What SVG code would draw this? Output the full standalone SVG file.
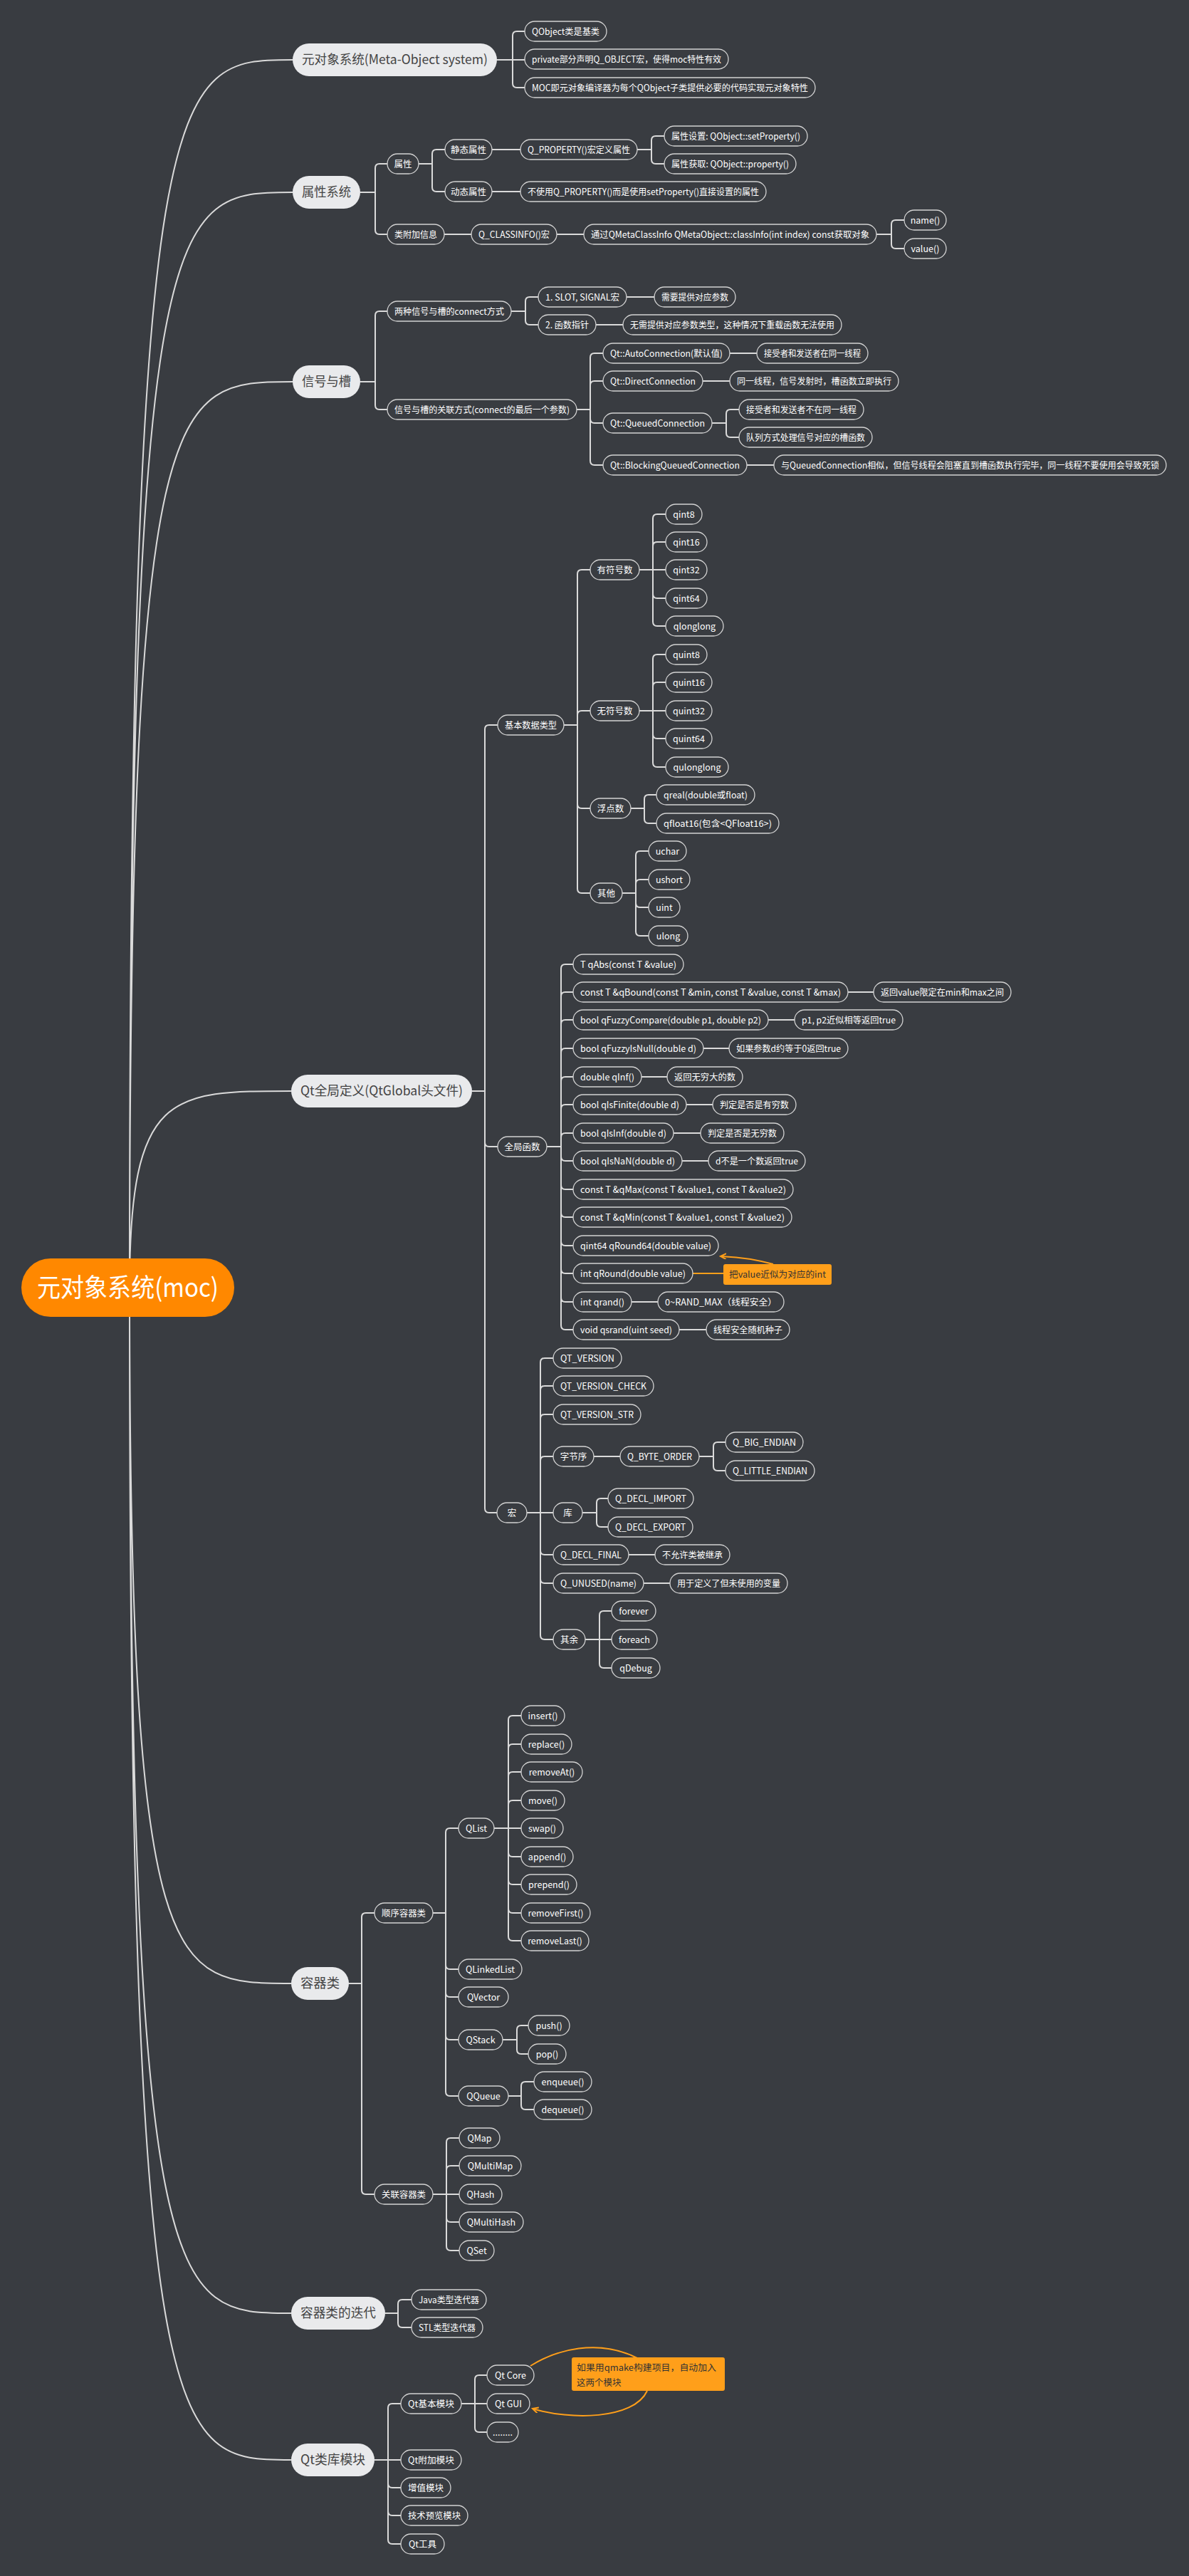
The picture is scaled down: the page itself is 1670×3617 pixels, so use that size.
<svg xmlns="http://www.w3.org/2000/svg" width="1670" height="3617" viewBox="0 0 1670 3617">
<style>
.n rect{fill:#393c41;stroke:#d2d2d2;stroke-width:1.3}
.n text{fill:#ffffff;font-family:"Noto Sans CJK SC","Noto Sans",sans-serif;font-size:12.5px;text-anchor:middle}
.l1 rect{fill:#e9eaec;stroke:none}
.l1 text{fill:#444;font-family:"Noto Sans CJK SC","Noto Sans",sans-serif;font-size:18px;text-anchor:middle}
.c path{fill:none;stroke:#dadada;stroke-width:2}
.co rect{fill:#ff9f1a}
.co text{fill:#333;font-family:"Noto Sans CJK SC","Noto Sans",sans-serif;font-size:12.5px}
.ol{fill:none;stroke:#ff9f1a;stroke-width:2}
</style>
<defs>
<marker id="ah" markerWidth="10" markerHeight="10" refX="8" refY="4" orient="auto" markerUnits="userSpaceOnUse">
<path d="M0,0L8,4L0,8" fill="none" stroke="#ff9f1a" stroke-width="2"/>
</marker>
</defs>
<rect width="1670" height="3617" fill="#393c41"/>
<g id="connectors" class="c">
<path d="M182,1808C182,84 240,84 411,84M182,1808C182,270 240,270 411,270M182,1808C182,536 240,536 411,536M182,1808C182,1532 240,1532 409,1532M182,1808C182,2785 240,2785 409,2785M182,1808C182,3248 240,3248 409,3248M182,1808C182,3454 240,3454 409,3454"/>
<path d="M698,84H720V50Q720,44 726,44H737M698,84H737M698,84H720V117Q720,123 726,123H737"/>
<path d="M506,270H527V236Q527,230 533,230H544M506,270H527V323Q527,329 533,329H544M588,230H607V216Q607,210 613,210H625M588,230H607V263Q607,269 613,269H625M691,210H731M895,210H915V197Q915,191 921,191H933M895,210H915V224Q915,230 921,230H933M691,269H731M624,329H662M782,329H820M1231,329H1252V315Q1252,309 1258,309H1270M1231,329H1252V343Q1252,349 1258,349H1270"/>
<path d="M506,536H527V443Q527,437 533,437H544M506,536H527V569Q527,575 533,575H544M718,437H738V423Q738,417 744,417H756M718,437H738V450Q738,456 744,456H756M880,417H919M837,456H875M810,575H829V502Q829,496 835,496H847M810,575H829V541Q829,535 835,535H847M810,575H829V588Q829,594 835,594H847M810,575H829V647Q829,653 835,653H847M1025,496H1063M987,535H1025M1000,594H1020V581Q1020,575 1026,575H1038M1000,594H1020V608Q1020,614 1026,614H1038M1049,653H1087"/>
<path d="M663,1532H681V1024Q681,1018 687,1018H699M663,1532H681V1604Q681,1610 687,1610H699M663,1532H681V2118Q681,2124 687,2124H698"/>
<path d="M792,1018H811V806Q811,800 817,800H829M792,1018H811V1004Q811,998 817,998H829M792,1018H811V1129Q811,1135 817,1135H829M792,1018H811V1248Q811,1254 817,1254H829"/>
<path d="M898,800H917V728Q917,722 923,722H935M898,800H917V767Q917,761 923,761H935M898,800H935M898,800H917V834Q917,840 923,840H935M898,800H917V873Q917,879 923,879H935"/>
<path d="M898,998H917V925Q917,919 923,919H935M898,998H917V964Q917,958 923,958H935M898,998H935M898,998H917V1031Q917,1037 923,1037H935M898,998H917V1071Q917,1077 923,1077H935"/>
<path d="M886,1135H905V1122Q905,1116 911,1116H922M886,1135H905V1150Q905,1156 911,1156H922M874,1254H893V1201Q893,1195 899,1195H911M874,1254H893V1241Q893,1235 899,1235H911M874,1254H893V1268Q893,1274 899,1274H911M874,1254H893V1308Q893,1314 899,1314H911"/>
<path d="M768,1610H788V1360Q788,1354 794,1354H805M768,1610H788V1399Q788,1393 794,1393H805M768,1610H788V1438Q788,1432 794,1432H805M768,1610H788V1478Q788,1472 794,1472H805M768,1610H788V1518Q788,1512 794,1512H805M768,1610H788V1557Q788,1551 794,1551H805M768,1610H788V1597Q788,1591 794,1591H805M768,1610H788V1624Q788,1630 794,1630H805M768,1610H788V1664Q788,1670 794,1670H805M768,1610H788V1703Q788,1709 794,1709H805M768,1610H788V1743Q788,1749 794,1749H805M768,1610H788V1782Q788,1788 794,1788H805M768,1610H788V1822Q788,1828 794,1828H805M768,1610H788V1861Q788,1867 794,1867H805"/>
<path d="M1191,1393H1227M1079,1432H1116M988,1472H1024M901,1512H937M964,1551H1001M946,1591H984M958,1630H995M887,1828H924M954,1867H992"/>
<path d="M740,2124H759V1913Q759,1907 765,1907H777M740,2124H759V1952Q759,1946 765,1946H777M740,2124H759V1992Q759,1986 765,1986H777M740,2124H759V2051Q759,2045 765,2045H777M740,2124H777M740,2124H759V2177Q759,2183 765,2183H777M740,2124H759V2217Q759,2223 765,2223H777M740,2124H759V2296Q759,2302 765,2302H777"/>
<path d="M834,2045H871M982,2045H1002V2031Q1002,2025 1008,2025H1019M982,2045H1002V2059Q1002,2065 1008,2065H1019M818,2124H838V2110Q838,2104 844,2104H854M818,2124H838V2138Q838,2144 844,2144H854M883,2183H920M904,2223H941M822,2302H842V2268Q842,2262 848,2262H859M822,2302H859M822,2302H842V2336Q842,2342 848,2342H859"/>
<path d="M490,2785H508V2692Q508,2686 514,2686H526M490,2785H508V3075Q508,3081 514,3081H526"/>
<path d="M608,2686H626V2573Q626,2567 632,2567H644M608,2686H626V2759Q626,2765 632,2765H644M608,2686H626V2798Q626,2804 632,2804H644M608,2686H626V2858Q626,2864 632,2864H644M608,2686H626V2937Q626,2943 632,2943H644"/>
<path d="M694,2567H714V2415Q714,2409 720,2409H732M694,2567H714V2455Q714,2449 720,2449H732M694,2567H714V2494Q714,2488 720,2488H732M694,2567H714V2534Q714,2528 720,2528H732M694,2567H732M694,2567H714V2601Q714,2607 720,2607H732M694,2567H714V2640Q714,2646 720,2646H732M694,2567H714V2680Q714,2686 720,2686H732M694,2567H714V2719Q714,2725 720,2725H732"/>
<path d="M706,2864H726V2850Q726,2844 732,2844H742M706,2864H726V2878Q726,2884 732,2884H742M714,2943H732V2929Q732,2923 738,2923H750M714,2943H732V2956Q732,2962 738,2962H750"/>
<path d="M608,3081H627V3008Q627,3002 633,3002H645M608,3081H627V3047Q627,3041 633,3041H645M608,3081H645M608,3081H627V3114Q627,3120 633,3120H645M608,3081H627V3154Q627,3160 633,3160H645"/>
<path d="M541,3248H559V3235Q559,3229 565,3229H578M541,3248H559V3262Q559,3268 565,3268H578"/>
<path d="M526,3454H545V3381Q545,3375 551,3375H563M526,3454H563M526,3454H545V3487Q545,3493 551,3493H563M526,3454H545V3526Q545,3532 551,3532H563M526,3454H545V3566Q545,3572 551,3572H563M648,3375H667V3341Q667,3335 673,3335H684M648,3375H684M648,3375H667V3409Q667,3415 673,3415H684"/>
</g>
<g id="callout-links">
<path class="ol" d="M973,1788H1016"/>
<path class="ol" d="M1086,1775Q1050,1765 1012,1764" marker-end="url(#ah)"/>
<path class="ol" d="M745,3322C780,3300 840,3282 897,3312"/>
<path class="ol" d="M909,3357C890,3398 800,3398 748,3382" marker-end="url(#ah)"/>
</g>
<g id="root"><rect x="30" y="1767" width="299" height="82" rx="41" fill="#ff8800"/><text x="179.5" y="1821" fill="#fff" font-family="Noto Sans CJK SC,Noto Sans,sans-serif" font-size="36" text-anchor="middle" textLength="255" lengthAdjust="spacingAndGlyphs">元对象系统(moc)</text></g>
<g id="t1" class="l1"><rect x="411" y="61" width="287" height="46" rx="23"/><text x="554.5" y="90" textLength="261" lengthAdjust="spacingAndGlyphs">元对象系统(Meta-Object system)</text></g>
<g id="t2" class="l1"><rect x="411" y="247" width="95" height="46" rx="23"/><text x="458.5" y="276" textLength="69" lengthAdjust="spacingAndGlyphs">属性系统</text></g>
<g id="t3" class="l1"><rect x="411" y="513" width="95" height="46" rx="23"/><text x="458.5" y="542" textLength="69" lengthAdjust="spacingAndGlyphs">信号与槽</text></g>
<g id="t4" class="l1"><rect x="409" y="1509" width="254" height="46" rx="23"/><text x="536" y="1538" textLength="228" lengthAdjust="spacingAndGlyphs">Qt全局定义(QtGlobal头文件)</text></g>
<g id="t5" class="l1"><rect x="409" y="2762" width="81" height="46" rx="23"/><text x="449.5" y="2791" textLength="55" lengthAdjust="spacingAndGlyphs">容器类</text></g>
<g id="t6" class="l1"><rect x="409" y="3225" width="132" height="46" rx="23"/><text x="475" y="3254" textLength="106" lengthAdjust="spacingAndGlyphs">容器类的迭代</text></g>
<g id="t7" class="l1"><rect x="409" y="3431" width="117" height="46" rx="23"/><text x="467.5" y="3460" textLength="91" lengthAdjust="spacingAndGlyphs">Qt类库模块</text></g>

<g id="a1" class="n"><rect x="737" y="30" width="115" height="28" rx="14"/><text x="794.5" y="48.5" textLength="95" lengthAdjust="spacingAndGlyphs">QObject类是基类</text></g>
<g id="a2" class="n"><rect x="737" y="69" width="286" height="28" rx="14"/><text x="880" y="87.5" textLength="266" lengthAdjust="spacingAndGlyphs">private部分声明Q_OBJECT宏，使得moc特性有效</text></g>
<g id="a3" class="n"><rect x="737" y="109" width="408" height="28" rx="14"/><text x="941" y="127.5" textLength="388" lengthAdjust="spacingAndGlyphs">MOC即元对象编译器为每个QObject子类提供必要的代码实现元对象特性</text></g>
<g id="b1" class="n"><rect x="544" y="216" width="44" height="28" rx="14"/><text x="566" y="234.5">属性</text></g>
<g id="b2" class="n"><rect x="625" y="196" width="66" height="28" rx="14"/><text x="658" y="214.5">静态属性</text></g>
<g id="b3" class="n"><rect x="731" y="196" width="164" height="28" rx="14"/><text x="813" y="214.5" textLength="144" lengthAdjust="spacingAndGlyphs">Q_PROPERTY()宏定义属性</text></g>
<g id="b4" class="n"><rect x="933" y="177" width="201" height="28" rx="14"/><text x="1033.5" y="195.5" textLength="181" lengthAdjust="spacingAndGlyphs">属性设置: QObject::setProperty()</text></g>
<g id="b5" class="n"><rect x="933" y="216" width="185" height="28" rx="14"/><text x="1025.5" y="234.5" textLength="165" lengthAdjust="spacingAndGlyphs">属性获取: QObject::property()</text></g>
<g id="b6" class="n"><rect x="625" y="255" width="66" height="28" rx="14"/><text x="658" y="273.5">动态属性</text></g>
<g id="b7" class="n"><rect x="731" y="255" width="345" height="28" rx="14"/><text x="903.5" y="273.5" textLength="325" lengthAdjust="spacingAndGlyphs">不使用Q_PROPERTY()而是使用setProperty()直接设置的属性</text></g>
<g id="b8" class="n"><rect x="544" y="315" width="80" height="28" rx="14"/><text x="584" y="333.5" textLength="60" lengthAdjust="spacingAndGlyphs">类附加信息</text></g>
<g id="b9" class="n"><rect x="662" y="315" width="120" height="28" rx="14"/><text x="722" y="333.5" textLength="100" lengthAdjust="spacingAndGlyphs">Q_CLASSINFO()宏</text></g>
<g id="b10" class="n"><rect x="820" y="315" width="411" height="28" rx="14"/><text x="1025.5" y="333.5" textLength="391" lengthAdjust="spacingAndGlyphs">通过QMetaClassInfo QMetaObject::classInfo(int index) const获取对象</text></g>
<g id="b11" class="n"><rect x="1270" y="295" width="59" height="28" rx="14"/><text x="1299.5" y="313.5">name()</text></g>
<g id="b12" class="n"><rect x="1270" y="335" width="59" height="28" rx="14"/><text x="1299.5" y="353.5">value()</text></g>

<g id="s1" class="n"><rect x="544" y="423" width="174" height="28" rx="14"/><text x="631" y="441.5" textLength="154" lengthAdjust="spacingAndGlyphs">两种信号与槽的connect方式</text></g>
<g id="s2" class="n"><rect x="756" y="403" width="124" height="28" rx="14"/><text x="818" y="421.5" textLength="104" lengthAdjust="spacingAndGlyphs">1. SLOT, SIGNAL宏</text></g>
<g id="s3" class="n"><rect x="919" y="403" width="114" height="28" rx="14"/><text x="976" y="421.5" textLength="94" lengthAdjust="spacingAndGlyphs">需要提供对应参数</text></g>
<g id="s4" class="n"><rect x="756" y="442" width="81" height="28" rx="14"/><text x="796.5" y="460.5" textLength="61" lengthAdjust="spacingAndGlyphs">2. 函数指针</text></g>
<g id="s5" class="n"><rect x="875" y="442" width="307" height="28" rx="14"/><text x="1028.5" y="460.5" textLength="287" lengthAdjust="spacingAndGlyphs">无需提供对应参数类型，这种情况下重载函数无法使用</text></g>
<g id="s6" class="n"><rect x="544" y="561" width="266" height="28" rx="14"/><text x="677" y="579.5" textLength="246" lengthAdjust="spacingAndGlyphs">信号与槽的关联方式(connect的最后一个参数)</text></g>
<g id="s7" class="n"><rect x="847" y="482" width="178" height="28" rx="14"/><text x="936" y="500.5" textLength="158" lengthAdjust="spacingAndGlyphs">Qt::AutoConnection(默认值)</text></g>
<g id="s8" class="n"><rect x="1063" y="482" width="156" height="28" rx="14"/><text x="1141" y="500.5" textLength="136" lengthAdjust="spacingAndGlyphs">接受者和发送者在同一线程</text></g>
<g id="s9" class="n"><rect x="847" y="521" width="140" height="28" rx="14"/><text x="917" y="539.5" textLength="120" lengthAdjust="spacingAndGlyphs">Qt::DirectConnection</text></g>
<g id="s10" class="n"><rect x="1025" y="521" width="237" height="28" rx="14"/><text x="1143.5" y="539.5" textLength="217" lengthAdjust="spacingAndGlyphs">同一线程，信号发射时，槽函数立即执行</text></g>
<g id="s11" class="n"><rect x="847" y="580" width="153" height="28" rx="14"/><text x="923.5" y="598.5" textLength="133" lengthAdjust="spacingAndGlyphs">Qt::QueuedConnection</text></g>
<g id="s12" class="n"><rect x="1038" y="561" width="175" height="28" rx="14"/><text x="1125.5" y="579.5" textLength="155" lengthAdjust="spacingAndGlyphs">接受者和发送者不在同一线程</text></g>
<g id="s13" class="n"><rect x="1038" y="600" width="187" height="28" rx="14"/><text x="1131.5" y="618.5" textLength="167" lengthAdjust="spacingAndGlyphs">队列方式处理信号对应的槽函数</text></g>
<g id="s14" class="n"><rect x="847" y="639" width="202" height="28" rx="14"/><text x="948" y="657.5" textLength="182" lengthAdjust="spacingAndGlyphs">Qt::BlockingQueuedConnection</text></g>
<g id="s15" class="n"><rect x="1087" y="639" width="551" height="28" rx="14"/><text x="1362.5" y="657.5" textLength="531" lengthAdjust="spacingAndGlyphs">与QueuedConnection相似，但信号线程会阻塞直到槽函数执行完毕，同一线程不要使用会导致死锁</text></g>

<g id="g1" class="n"><rect x="699" y="1004" width="93" height="28" rx="14"/><text x="745.5" y="1022.5" textLength="73" lengthAdjust="spacingAndGlyphs">基本数据类型</text></g>
<g id="g2" class="n"><rect x="829" y="786" width="69" height="28" rx="14"/><text x="863.5" y="804.5">有符号数</text></g>
<g id="g3" class="n"><rect x="935" y="708" width="51" height="28" rx="14"/><text x="960.5" y="726.5">qint8</text></g>
<g id="g4" class="n"><rect x="935" y="747" width="58" height="28" rx="14"/><text x="964" y="765.5">qint16</text></g>
<g id="g5" class="n"><rect x="935" y="786" width="58" height="28" rx="14"/><text x="964" y="804.5">qint32</text></g>
<g id="g6" class="n"><rect x="935" y="826" width="58" height="28" rx="14"/><text x="964" y="844.5">qint64</text></g>
<g id="g7" class="n"><rect x="935" y="865" width="81" height="28" rx="14"/><text x="975.5" y="883.5">qlonglong</text></g>
<g id="g8" class="n"><rect x="829" y="984" width="69" height="28" rx="14"/><text x="863.5" y="1002.5">无符号数</text></g>
<g id="g9" class="n"><rect x="935" y="905" width="58" height="28" rx="14"/><text x="964" y="923.5">quint8</text></g>
<g id="g10" class="n"><rect x="935" y="944" width="65" height="28" rx="14"/><text x="967.5" y="962.5">quint16</text></g>
<g id="g11" class="n"><rect x="935" y="984" width="65" height="28" rx="14"/><text x="967.5" y="1002.5">quint32</text></g>
<g id="g12" class="n"><rect x="935" y="1023" width="65" height="28" rx="14"/><text x="967.5" y="1041.5">quint64</text></g>
<g id="g13" class="n"><rect x="935" y="1063" width="88" height="28" rx="14"/><text x="979" y="1081.5">qulonglong</text></g>
<g id="g14" class="n"><rect x="829" y="1121" width="57" height="28" rx="14"/><text x="857.5" y="1139.5">浮点数</text></g>
<g id="g15" class="n"><rect x="922" y="1102" width="138" height="28" rx="14"/><text x="991" y="1120.5" textLength="118" lengthAdjust="spacingAndGlyphs">qreal(double或float)</text></g>
<g id="g16" class="n"><rect x="922" y="1142" width="172" height="28" rx="14"/><text x="1008" y="1160.5" textLength="152" lengthAdjust="spacingAndGlyphs">qfloat16(包含&lt;QFloat16&gt;)</text></g>
<g id="g17" class="n"><rect x="829" y="1240" width="45" height="28" rx="14"/><text x="851.5" y="1258.5">其他</text></g>
<g id="g18" class="n"><rect x="911" y="1181" width="53" height="28" rx="14"/><text x="937.5" y="1199.5">uchar</text></g>
<g id="g19" class="n"><rect x="911" y="1221" width="58" height="28" rx="14"/><text x="940" y="1239.5">ushort</text></g>
<g id="g20" class="n"><rect x="911" y="1260" width="44" height="28" rx="14"/><text x="933" y="1278.5">uint</text></g>
<g id="g21" class="n"><rect x="911" y="1300" width="55" height="28" rx="14"/><text x="938.5" y="1318.5">ulong</text></g>

<g id="f0" class="n"><rect x="699" y="1596" width="69" height="28" rx="14"/><text x="733.5" y="1614.5">全局函数</text></g>
<g id="f1" class="n"><rect x="805" y="1340" width="155" height="28" rx="14"/><text x="882.5" y="1358.5" textLength="135" lengthAdjust="spacingAndGlyphs">T qAbs(const T &amp;value)</text></g>
<g id="f2" class="n"><rect x="805" y="1379" width="386" height="28" rx="14"/><text x="998" y="1397.5" textLength="366" lengthAdjust="spacingAndGlyphs">const T &amp;qBound(const T &amp;min, const T &amp;value, const T &amp;max)</text></g>
<g id="f2a" class="n"><rect x="1227" y="1379" width="193" height="28" rx="14"/><text x="1323.5" y="1397.5" textLength="173" lengthAdjust="spacingAndGlyphs">返回value限定在min和max之间</text></g>
<g id="f3" class="n"><rect x="805" y="1418" width="274" height="28" rx="14"/><text x="942" y="1436.5" textLength="254" lengthAdjust="spacingAndGlyphs">bool qFuzzyCompare(double p1, double p2)</text></g>
<g id="f3a" class="n"><rect x="1116" y="1418" width="152" height="28" rx="14"/><text x="1192" y="1436.5" textLength="132" lengthAdjust="spacingAndGlyphs">p1, p2近似相等返回true</text></g>
<g id="f4" class="n"><rect x="805" y="1458" width="183" height="28" rx="14"/><text x="896.5" y="1476.5" textLength="163" lengthAdjust="spacingAndGlyphs">bool qFuzzyIsNull(double d)</text></g>
<g id="f4a" class="n"><rect x="1024" y="1458" width="167" height="28" rx="14"/><text x="1107.5" y="1476.5" textLength="147" lengthAdjust="spacingAndGlyphs">如果参数d约等于0返回true</text></g>
<g id="f5" class="n"><rect x="805" y="1498" width="96" height="28" rx="14"/><text x="853" y="1516.5" textLength="76" lengthAdjust="spacingAndGlyphs">double qInf()</text></g>
<g id="f5a" class="n"><rect x="937" y="1498" width="106" height="28" rx="14"/><text x="990" y="1516.5" textLength="86" lengthAdjust="spacingAndGlyphs">返回无穷大的数</text></g>
<g id="f6" class="n"><rect x="805" y="1537" width="159" height="28" rx="14"/><text x="884.5" y="1555.5" textLength="139" lengthAdjust="spacingAndGlyphs">bool qIsFinite(double d)</text></g>
<g id="f6a" class="n"><rect x="1001" y="1537" width="117" height="28" rx="14"/><text x="1059.5" y="1555.5" textLength="97" lengthAdjust="spacingAndGlyphs">判定是否是有穷数</text></g>
<g id="f7" class="n"><rect x="805" y="1577" width="141" height="28" rx="14"/><text x="875.5" y="1595.5" textLength="121" lengthAdjust="spacingAndGlyphs">bool qIsInf(double d)</text></g>
<g id="f7a" class="n"><rect x="984" y="1577" width="117" height="28" rx="14"/><text x="1042.5" y="1595.5" textLength="97" lengthAdjust="spacingAndGlyphs">判定是否是无穷数</text></g>
<g id="f8" class="n"><rect x="805" y="1616" width="153" height="28" rx="14"/><text x="881.5" y="1634.5" textLength="133" lengthAdjust="spacingAndGlyphs">bool qIsNaN(double d)</text></g>
<g id="f8a" class="n"><rect x="995" y="1616" width="136" height="28" rx="14"/><text x="1063" y="1634.5" textLength="116" lengthAdjust="spacingAndGlyphs">d不是一个数返回true</text></g>
<g id="f9" class="n"><rect x="805" y="1656" width="309" height="28" rx="14"/><text x="959.5" y="1674.5" textLength="289" lengthAdjust="spacingAndGlyphs">const T &amp;qMax(const T &amp;value1, const T &amp;value2)</text></g>
<g id="f10" class="n"><rect x="805" y="1695" width="307" height="28" rx="14"/><text x="958.5" y="1713.5" textLength="287" lengthAdjust="spacingAndGlyphs">const T &amp;qMin(const T &amp;value1, const T &amp;value2)</text></g>
<g id="f11" class="n"><rect x="805" y="1735" width="204" height="28" rx="14"/><text x="907" y="1753.5" textLength="184" lengthAdjust="spacingAndGlyphs">qint64 qRound64(double value)</text></g>
<g id="f12" class="n"><rect x="805" y="1774" width="168" height="28" rx="14"/><text x="889" y="1792.5" textLength="148" lengthAdjust="spacingAndGlyphs">int qRound(double value)</text></g>
<g id="f13" class="n"><rect x="805" y="1814" width="82" height="28" rx="14"/><text x="846" y="1832.5" textLength="62" lengthAdjust="spacingAndGlyphs">int qrand()</text></g>
<g id="f13a" class="n"><rect x="924" y="1814" width="177" height="28" rx="14"/><text x="1012.5" y="1832.5" textLength="157" lengthAdjust="spacingAndGlyphs">0~RAND_MAX（线程安全）</text></g>
<g id="f14" class="n"><rect x="805" y="1853" width="149" height="28" rx="14"/><text x="879.5" y="1871.5" textLength="129" lengthAdjust="spacingAndGlyphs">void qsrand(uint seed)</text></g>
<g id="f14a" class="n"><rect x="992" y="1853" width="117" height="28" rx="14"/><text x="1050.5" y="1871.5" textLength="97" lengthAdjust="spacingAndGlyphs">线程安全随机种子</text></g>
<g id="co1" class="co"><rect x="1016" y="1775" width="152" height="29" rx="3"/><text x="1024" y="1794" textLength="136" lengthAdjust="spacingAndGlyphs">把value近似为对应的int</text></g>

<g id="m0" class="n"><rect x="698" y="2110" width="42" height="28" rx="14"/><text x="719" y="2128.5">宏</text></g>
<g id="m1" class="n"><rect x="777" y="1893" width="96" height="28" rx="14"/><text x="825" y="1911.5" textLength="76" lengthAdjust="spacingAndGlyphs">QT_VERSION</text></g>
<g id="m2" class="n"><rect x="777" y="1932" width="141" height="28" rx="14"/><text x="847.5" y="1950.5" textLength="121" lengthAdjust="spacingAndGlyphs">QT_VERSION_CHECK</text></g>
<g id="m3" class="n"><rect x="777" y="1972" width="123" height="28" rx="14"/><text x="838.5" y="1990.5" textLength="103" lengthAdjust="spacingAndGlyphs">QT_VERSION_STR</text></g>
<g id="m4" class="n"><rect x="777" y="2031" width="57" height="28" rx="14"/><text x="805.5" y="2049.5">字节序</text></g>
<g id="m5" class="n"><rect x="871" y="2031" width="111" height="28" rx="14"/><text x="926.5" y="2049.5" textLength="91" lengthAdjust="spacingAndGlyphs">Q_BYTE_ORDER</text></g>
<g id="m6" class="n"><rect x="1019" y="2011" width="109" height="28" rx="14"/><text x="1073.5" y="2029.5" textLength="89" lengthAdjust="spacingAndGlyphs">Q_BIG_ENDIAN</text></g>
<g id="m7" class="n"><rect x="1019" y="2051" width="125" height="28" rx="14"/><text x="1081.5" y="2069.5" textLength="105" lengthAdjust="spacingAndGlyphs">Q_LITTLE_ENDIAN</text></g>
<g id="m8" class="n"><rect x="777" y="2110" width="41" height="28" rx="14"/><text x="797.5" y="2128.5">库</text></g>
<g id="m9" class="n"><rect x="854" y="2090" width="120" height="28" rx="14"/><text x="914" y="2108.5" textLength="100" lengthAdjust="spacingAndGlyphs">Q_DECL_IMPORT</text></g>
<g id="m10" class="n"><rect x="854" y="2130" width="119" height="28" rx="14"/><text x="913.5" y="2148.5" textLength="99" lengthAdjust="spacingAndGlyphs">Q_DECL_EXPORT</text></g>
<g id="m11" class="n"><rect x="777" y="2169" width="106" height="28" rx="14"/><text x="830" y="2187.5" textLength="86" lengthAdjust="spacingAndGlyphs">Q_DECL_FINAL</text></g>
<g id="m11a" class="n"><rect x="920" y="2169" width="105" height="28" rx="14"/><text x="972.5" y="2187.5" textLength="85" lengthAdjust="spacingAndGlyphs">不允许类被继承</text></g>
<g id="m12" class="n"><rect x="777" y="2209" width="127" height="28" rx="14"/><text x="840.5" y="2227.5" textLength="107" lengthAdjust="spacingAndGlyphs">Q_UNUSED(name)</text></g>
<g id="m12a" class="n"><rect x="941" y="2209" width="165" height="28" rx="14"/><text x="1023.5" y="2227.5" textLength="145" lengthAdjust="spacingAndGlyphs">用于定义了但未使用的变量</text></g>
<g id="m13" class="n"><rect x="777" y="2288" width="45" height="28" rx="14"/><text x="799.5" y="2306.5">其余</text></g>
<g id="m14" class="n"><rect x="859" y="2248" width="62" height="28" rx="14"/><text x="890" y="2266.5">forever</text></g>
<g id="m15" class="n"><rect x="859" y="2288" width="64" height="28" rx="14"/><text x="891" y="2306.5">foreach</text></g>
<g id="m16" class="n"><rect x="859" y="2328" width="68" height="28" rx="14"/><text x="893" y="2346.5">qDebug</text></g>

<g id="c1" class="n"><rect x="526" y="2672" width="82" height="28" rx="14"/><text x="567" y="2690.5" textLength="62" lengthAdjust="spacingAndGlyphs">顺序容器类</text></g>
<g id="c2" class="n"><rect x="644" y="2553" width="50" height="28" rx="14"/><text x="669" y="2571.5">QList</text></g>
<g id="c3" class="n"><rect x="732" y="2395" width="61" height="28" rx="14"/><text x="762.5" y="2413.5">insert()</text></g>
<g id="c4" class="n"><rect x="732" y="2435" width="71" height="28" rx="14"/><text x="767.5" y="2453.5">replace()</text></g>
<g id="c5" class="n"><rect x="732" y="2474" width="86" height="28" rx="14"/><text x="775" y="2492.5">removeAt()</text></g>
<g id="c6" class="n"><rect x="732" y="2514" width="61" height="28" rx="14"/><text x="762.5" y="2532.5">move()</text></g>
<g id="c7" class="n"><rect x="732" y="2553" width="59" height="28" rx="14"/><text x="761.5" y="2571.5">swap()</text></g>
<g id="c8" class="n"><rect x="732" y="2593" width="73" height="28" rx="14"/><text x="768.5" y="2611.5">append()</text></g>
<g id="c9" class="n"><rect x="732" y="2632" width="78" height="28" rx="14"/><text x="771" y="2650.5">prepend()</text></g>
<g id="c10" class="n"><rect x="732" y="2672" width="97" height="28" rx="14"/><text x="780.5" y="2690.5">removeFirst()</text></g>
<g id="c11" class="n"><rect x="732" y="2711" width="95" height="28" rx="14"/><text x="779.5" y="2729.5">removeLast()</text></g>
<g id="c12" class="n"><rect x="644" y="2751" width="89" height="28" rx="14"/><text x="688.5" y="2769.5">QLinkedList</text></g>
<g id="c13" class="n"><rect x="644" y="2790" width="70" height="28" rx="14"/><text x="679" y="2808.5">QVector</text></g>
<g id="c14" class="n"><rect x="644" y="2850" width="62" height="28" rx="14"/><text x="675" y="2868.5">QStack</text></g>
<g id="c15" class="n"><rect x="742" y="2830" width="58" height="28" rx="14"/><text x="771" y="2848.5">push()</text></g>
<g id="c16" class="n"><rect x="742" y="2870" width="53" height="28" rx="14"/><text x="768.5" y="2888.5">pop()</text></g>
<g id="c17" class="n"><rect x="644" y="2929" width="70" height="28" rx="14"/><text x="679" y="2947.5">QQueue</text></g>
<g id="c18" class="n"><rect x="750" y="2909" width="81" height="28" rx="14"/><text x="790.5" y="2927.5">enqueue()</text></g>
<g id="c19" class="n"><rect x="750" y="2948" width="81" height="28" rx="14"/><text x="790.5" y="2966.5">dequeue()</text></g>
<g id="c20" class="n"><rect x="526" y="3067" width="82" height="28" rx="14"/><text x="567" y="3085.5" textLength="62" lengthAdjust="spacingAndGlyphs">关联容器类</text></g>
<g id="c21" class="n"><rect x="645" y="2988" width="57" height="28" rx="14"/><text x="673.5" y="3006.5">QMap</text></g>
<g id="c22" class="n"><rect x="645" y="3027" width="87" height="28" rx="14"/><text x="688.5" y="3045.5">QMultiMap</text></g>
<g id="c23" class="n"><rect x="645" y="3067" width="60" height="28" rx="14"/><text x="675" y="3085.5">QHash</text></g>
<g id="c24" class="n"><rect x="645" y="3106" width="90" height="28" rx="14"/><text x="690" y="3124.5">QMultiHash</text></g>
<g id="c25" class="n"><rect x="645" y="3146" width="49" height="28" rx="14"/><text x="669.5" y="3164.5">QSet</text></g>
<g id="i1" class="n"><rect x="578" y="3215" width="105" height="28" rx="14"/><text x="630.5" y="3233.5" textLength="85" lengthAdjust="spacingAndGlyphs">Java类型迭代器</text></g>
<g id="i2" class="n"><rect x="578" y="3254" width="100" height="28" rx="14"/><text x="628" y="3272.5" textLength="80" lengthAdjust="spacingAndGlyphs">STL类型迭代器</text></g>
<g id="q1" class="n"><rect x="563" y="3361" width="85" height="28" rx="14"/><text x="605.5" y="3379.5" textLength="65" lengthAdjust="spacingAndGlyphs">Qt基本模块</text></g>
<g id="q2" class="n"><rect x="684" y="3321" width="66" height="28" rx="14"/><text x="717" y="3339.5">Qt Core</text></g>
<g id="q3" class="n"><rect x="684" y="3361" width="60" height="28" rx="14"/><text x="714" y="3379.5">Qt GUI</text></g>
<g id="q4" class="n"><rect x="684" y="3401" width="44" height="28" rx="14"/><text x="706" y="3419.5">........</text></g>
<g id="q5" class="n"><rect x="563" y="3440" width="85" height="28" rx="14"/><text x="605.5" y="3458.5" textLength="65" lengthAdjust="spacingAndGlyphs">Qt附加模块</text></g>
<g id="q6" class="n"><rect x="563" y="3479" width="70" height="28" rx="14"/><text x="598" y="3497.5">增值模块</text></g>
<g id="q7" class="n"><rect x="563" y="3518" width="94" height="28" rx="14"/><text x="610" y="3536.5" textLength="74" lengthAdjust="spacingAndGlyphs">技术预览模块</text></g>
<g id="q8" class="n"><rect x="563" y="3558" width="61" height="28" rx="14"/><text x="593.5" y="3576.5">Qt工具</text></g>
<g id="co2" class="co"><rect x="803" y="3310" width="215" height="47" rx="3"/><text x="810" y="3329" textLength="196" lengthAdjust="spacingAndGlyphs">如果用qmake构建项目，自动加入</text><text x="810" y="3350">这两个模块</text></g>
</svg>
